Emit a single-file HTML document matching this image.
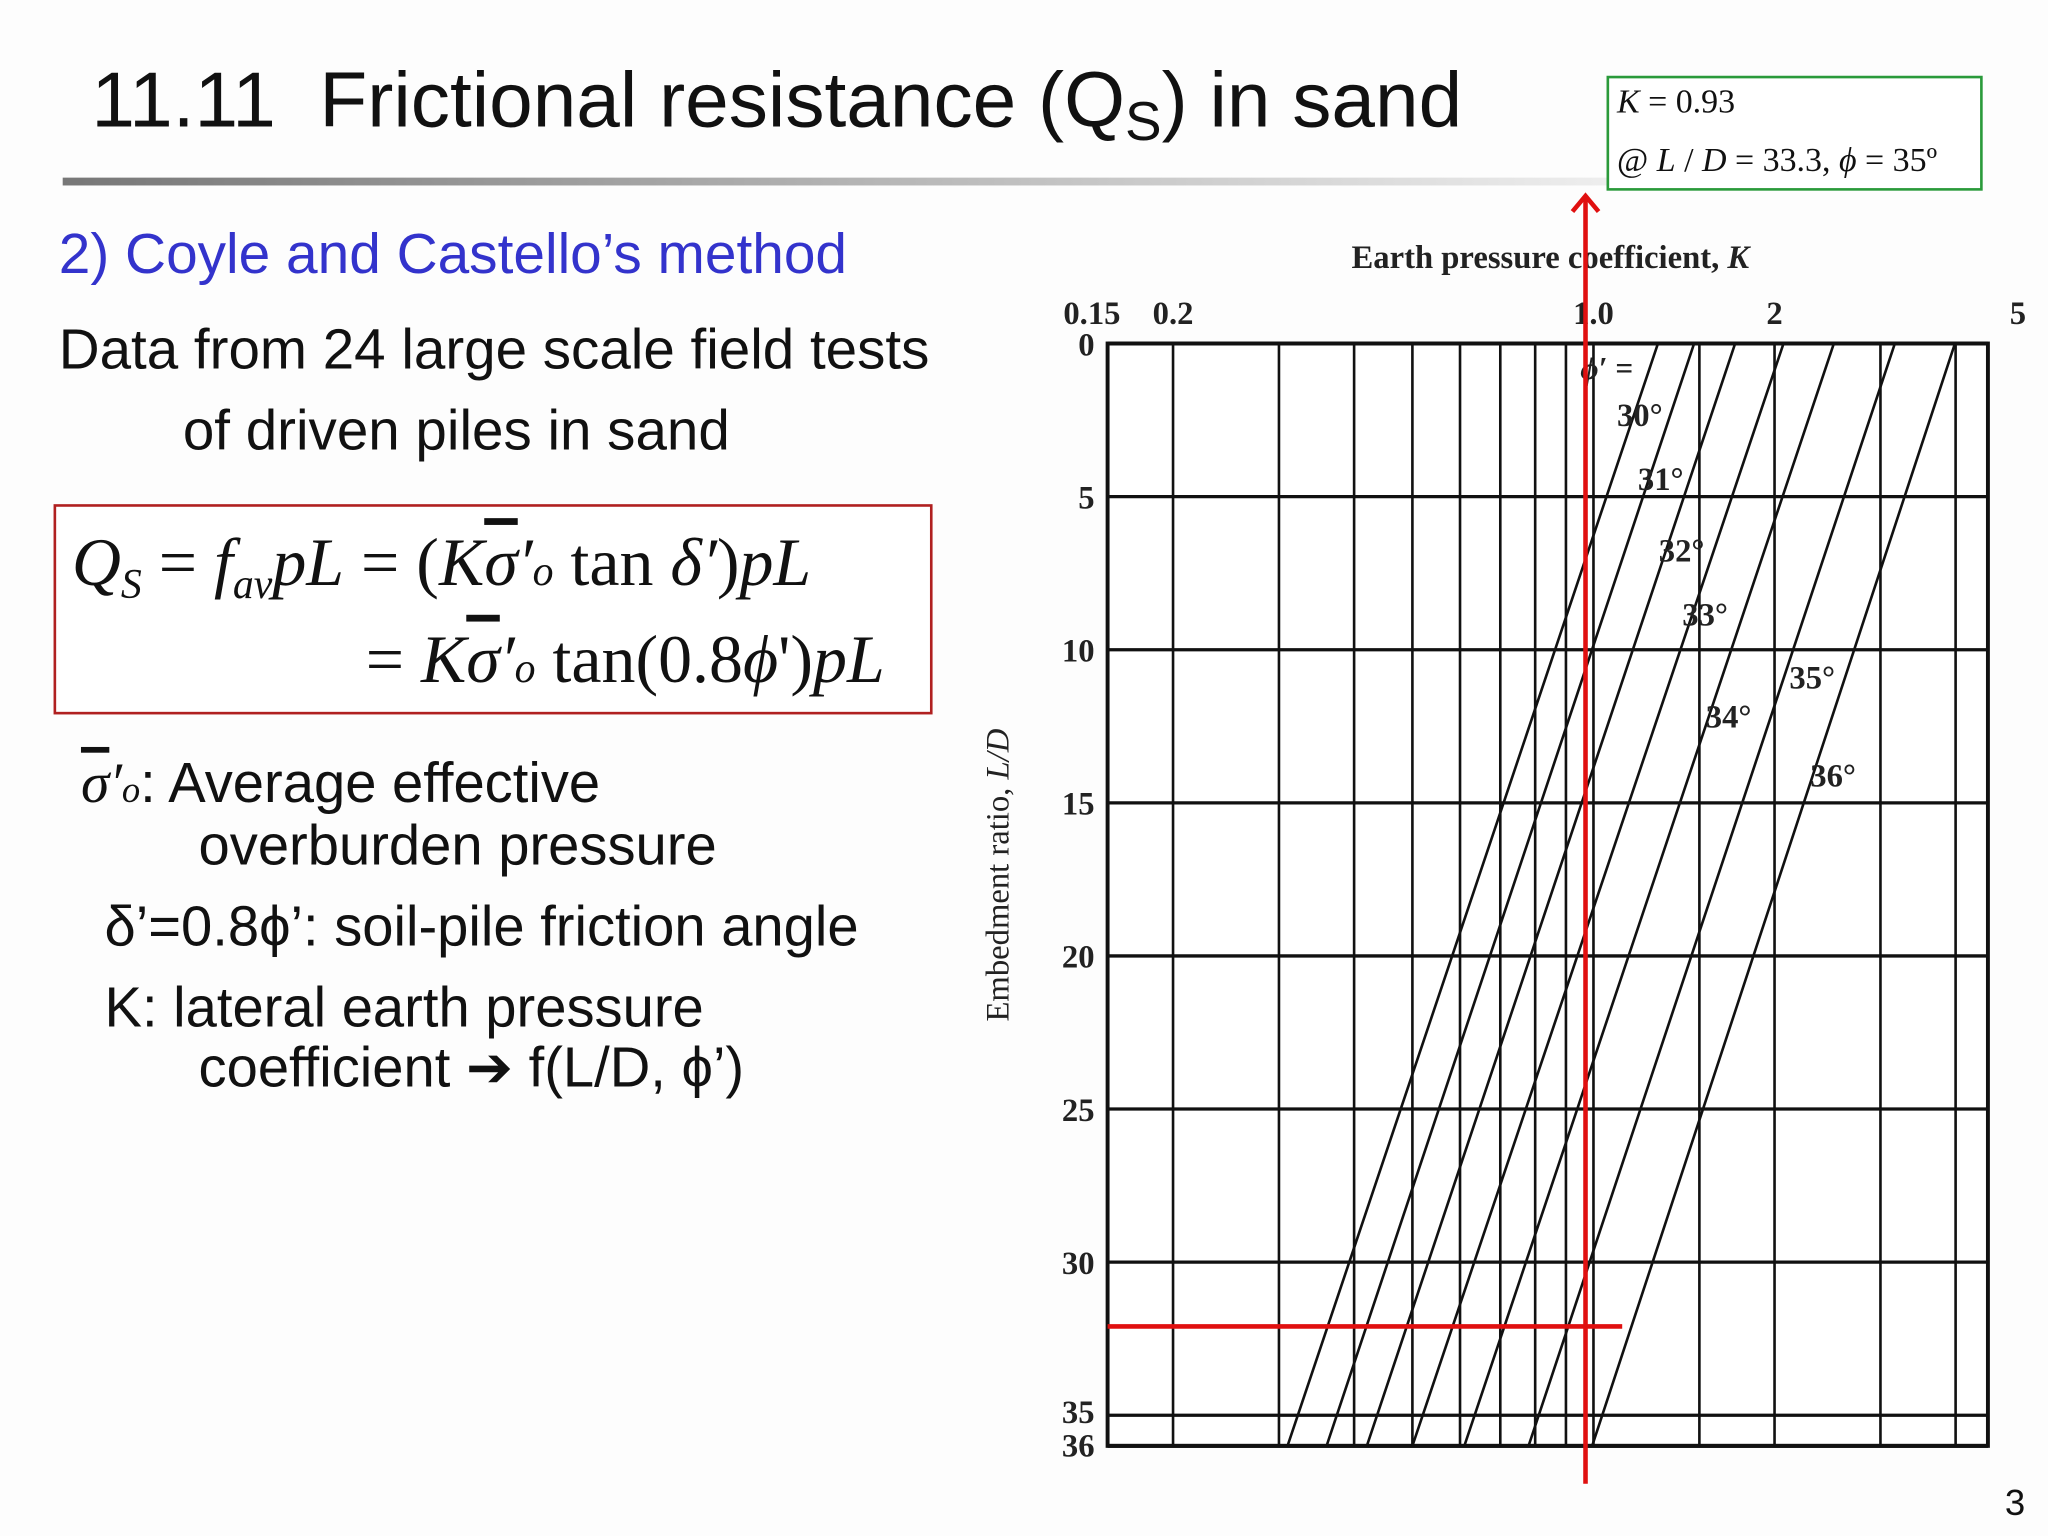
<!DOCTYPE html>
<html><head><meta charset="utf-8"><style>
html,body{margin:0;padding:0;background:#fdfdfd;}
svg{display:block;}
.sans{font-family:"Liberation Sans",sans-serif;}
.serif{font-family:"Liberation Serif",serif;}
</style></head><body>
<svg id="page" width="2048" height="1536" viewBox="0 0 1568 1176" xmlns="http://www.w3.org/2000/svg">
<defs>
<linearGradient id="tg" x1="0" x2="1" y1="0" y2="0"><stop offset="0" stop-color="#777"/><stop offset="1" stop-color="#eee"/></linearGradient>
</defs>
<rect width="1568" height="1176" fill="#fdfdfd"/>
<text class="sans" x="70" y="97" font-size="60" fill="#111" xml:space="preserve">11.11  Frictional resistance (Q<tspan font-size="42" dy="10">S</tspan><tspan dy="-10">) in sand</tspan></text>
<rect x="48" y="136" width="1185" height="6" fill="url(#tg)"/>
<g>
<rect x="1231" y="59" width="286" height="86" fill="#fff" stroke="#2a9a3a" stroke-width="2"/>
<text class="serif" x="1238" y="86" font-size="26" fill="#111"><tspan font-style="italic">K</tspan> = 0.93</text>
<text class="serif" x="1238" y="131" font-size="26" fill="#111">@ <tspan font-style="italic">L</tspan> / <tspan font-style="italic">D</tspan> = 33.3, <tspan font-style="italic">ϕ</tspan> = 35º</text>
</g>
<text class="sans" x="45" y="209" font-size="43.5" fill="#3333cc">2) Coyle and Castello’s method</text>
<text class="sans" x="45" y="282" font-size="43.3" fill="#111">Data from 24 large scale field tests</text>
<text class="sans" x="140" y="344" font-size="43.3" fill="#111">of driven piles in sand</text>
<g>
<rect x="42" y="387" width="671" height="159" fill="#fff" stroke="#b02020" stroke-width="2"/>
<text class="serif" x="55" y="448" font-size="52" fill="#111"><tspan font-style="italic">Q</tspan><tspan font-style="italic" font-size="32" dy="10">S</tspan><tspan dy="-10"> = </tspan><tspan font-style="italic">f</tspan><tspan font-style="italic" font-size="32" dy="10">av</tspan><tspan dy="-10" font-style="italic">pL</tspan> = (<tspan font-style="italic">K</tspan><tspan font-style="italic" text-decoration="overline">σ</tspan><tspan font-style="italic">′</tspan><tspan font-style="italic" font-size="32">o</tspan> tan <tspan font-style="italic">δ′</tspan>)<tspan font-style="italic">pL</tspan></text>
<text class="serif" x="280" y="522" font-size="52" fill="#111">= <tspan font-style="italic">K</tspan><tspan font-style="italic" text-decoration="overline">σ</tspan><tspan font-style="italic">′</tspan><tspan font-style="italic" font-size="32">o</tspan> tan(0.8<tspan font-style="italic">ϕ</tspan>')<tspan font-style="italic">pL</tspan></text>
</g>
<g class="sans" font-size="43" fill="#111">
<text x="62" y="614"><tspan class="serif" font-style="italic" font-size="44" text-decoration="overline">σ</tspan><tspan class="serif" font-style="italic" font-size="44">′</tspan><tspan class="serif" font-style="italic" font-size="28">o</tspan>: Average effective</text>
<text x="152" y="662">overburden pressure</text>
<text x="80" y="724">δ’=0.8ϕ’: soil-pile friction angle</text>
<text x="80" y="786">K: lateral earth pressure</text>
<text x="152" y="832">coefficient ➔ f(L/D, ϕ’)</text>
</g>
<text class="sans" x="1535" y="1160" font-size="28" fill="#111">3</text>
<g id="chart"></g>
</svg>
<script>
const xTicks=[0.2,0.3,0.4,0.5,0.6,0.7,0.8,0.9,1.0,1.5,2,3,4];
const xLabels=["0.15","0.2","1.0","2","5"];
const xLabelVals=[0.15,0.2,1.0,2,5];
const yTicks=[0,5,10,15,20,25,30,35,36];
const phiLabels=["30°","31°","32°","33°","34°","35°","36°"];
const kTop=[1.28,1.47,1.72,2.07,2.51,3.17,3.99];
const kBottom=[0.31,0.36,0.42,0.50,0.61,0.78,0.995];
const readLD=[32.1];
const readK=[0.97];
const NS="http://www.w3.org/2000/svg";
const L=848,R=1522,T=263,B=1107;
const xs=k=>1220+200*Math.log(k);
const ys=v=>T+(B-T)*v/36;
const g=document.getElementById('chart');
function mk(tag,a){const e=document.createElementNS(NS,tag);for(const k in a)e.setAttribute(k,a[k]);g.appendChild(e);return e;}
mk('rect',{x:L,y:T,width:R-L,height:B-T,fill:'#fff',stroke:'#111','stroke-width':3});
xTicks.forEach(v=>{const e=mk('line',{x1:xs(v),x2:xs(v),y1:T,y2:B,stroke:'#111','stroke-width':2});

});
yTicks.forEach(v=>{const e=mk('line',{x1:L,x2:R,y1:ys(v),y2:ys(v),stroke:'#111','stroke-width':(v==0||v==36)?3:2.5});


const t=mk('text',{x:838,y:ys(v)+(v==36?8:(v==35?6:9)),'text-anchor':'end','font-size':25,'font-weight':'bold','font-family':'Liberation Serif, serif',fill:'#222'});
t.textContent=v;

});
xLabels.forEach((s,i)=>{let x=xs(xLabelVals[i]);if(i==0)x=836;if(i==4)x=1545;const t=mk('text',{x:x,y:248,'text-anchor':'middle','font-size':25,'font-weight':'bold','font-family':'Liberation Serif, serif',fill:'#222'});
t.textContent=s;

});
phiLabels.forEach((s,i)=>{const e=mk('line',{x1:xs(kTop[i]),y1:ys(0),x2:xs(kBottom[i]),y2:ys(36),stroke:'#111','stroke-width':2});

});
const lp=[[1238,326],[1254,375],[1270,430],[1288,479],[1306,557],[1370,527],[1386,602]];
phiLabels.forEach((s,i)=>{const t=mk('text',{x:lp[i][0],y:lp[i][1],'font-size':25,'font-weight':'bold','font-family':'Liberation Serif, serif',fill:'#222'});
t.textContent=s;

});
const pe=mk('text',{x:1210,y:290,'font-size':24,'font-weight':'bold','font-family':'Liberation Serif, serif','font-style':'italic',fill:'#222'});pe.textContent="ϕ′ =";


const xt=mk('text',{x:1187,y:205,'text-anchor':'middle','font-size':25,'font-weight':'bold','font-family':'Liberation Serif, serif',fill:'#222'});xt.innerHTML='Earth pressure coefficient, <tspan font-style="italic">K</tspan>';


const yt=mk('text',{x:0,y:0,'text-anchor':'middle','font-size':25,'font-family':'Liberation Serif, serif',fill:'#222',transform:'translate(772,670) rotate(-90)'});yt.innerHTML='Embedment ratio, <tspan font-style="italic">L/D</tspan>';


const rv=mk('line',{x1:xs(readK[0]),x2:xs(readK[0]),y1:152,y2:1136,stroke:'#e01010','stroke-width':3.5});


const ra=mk('polyline',{points:`${xs(readK[0])-10},162 ${xs(readK[0])},150 ${xs(readK[0])+10},162`,fill:'none',stroke:'#e01010','stroke-width':3.5});


const rh=mk('line',{x1:L,x2:1242,y1:ys(readLD[0]),y2:ys(readLD[0]),stroke:'#e01010','stroke-width':3.5});


</script>
</body></html>
